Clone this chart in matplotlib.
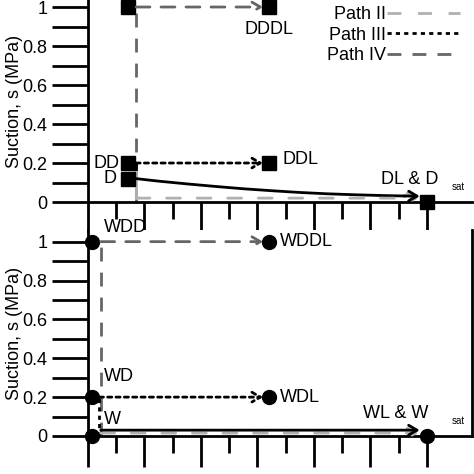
import matplotlib
matplotlib.use("Agg")
import matplotlib.pyplot as plt
from matplotlib.lines import Line2D

plt.rcParams["font.family"] = ["Liberation Sans", "DejaVu Sans"]

# x in tick units (0 = left spine), y in MPa
d_x = [1.4, 1.4, 1.4, 6.4, 6.4, 12.0]
d_y = [0.12, 0.2, 1.0, 1.0, 0.2, 0.0]
w_x = [0.15, 0.15, 0.15, 6.4, 6.4, 12.0]
w_y = [0.0, 0.2, 1.0, 1.0, 0.2, 0.0]

path1_top_x = [1.7, 2.5, 3.5, 4.5, 5.5, 6.5, 7.5, 8.5, 9.5, 10.5, 11.2, 11.75]
path1_top_y = [0.12, 0.107, 0.093, 0.08, 0.068, 0.058, 0.049, 0.042, 0.037, 0.033, 0.031, 0.03]

DARK = "#666666"
LIGHT = "#b0b0b0"
FS = 13

fig = plt.figure(figsize=(4.74, 4.74), dpi=100)
ax1 = fig.add_axes([0.1857, 0.5738, 0.81, 0.4262])
ax2 = fig.add_axes([0.1857, 0.0802, 0.81, 0.4346])


def style(ax, top):
    ax.set_xlim(0, 13.6)
    ax.set_ylim(0, 1.036 if top else 1.06)
    ax.spines["top"].set_visible(False)
    ax.spines["right"].set_visible(not top)
    for s in ax.spines.values():
        s.set_linewidth(2)
    ax.set_xticks(range(0, 13, 2))
    ax.set_xticks(range(1, 13, 2), minor=True)
    ax.set_xticklabels([])
    ax.set_yticks([0, 0.2, 0.4, 0.6, 0.8, 1.0])
    ax.set_yticklabels(["0", "0.2", "0.4", "0.6", "0.8", "1"], fontsize=FS)
    ax.set_yticks([0.1, 0.3, 0.5, 0.7, 0.9], minor=True)
    ax.tick_params(axis="x", which="major", length=22, width=2, direction="out")
    ax.tick_params(axis="x", which="minor", length=12, width=2, direction="out")
    ax.tick_params(axis="y", which="both", length=26, width=2, direction="out", pad=3)
    ax.set_ylabel("Suction, s (MPa)", fontsize=FS, labelpad=0)


def arrow(ax, x0, y0, x1, y1, color, ls="-"):
    ax.annotate("", xy=(x1, y1), xytext=(x0, y0),
                arrowprops=dict(arrowstyle="->,head_length=0.6,head_width=0.35",
                                color=color, lw=2, ls=ls, shrinkA=0, shrinkB=0))


style(ax1, True)
style(ax2, False)

# top panel paths
ax1.plot([1.7, 1.7], [0.0, 1.0], color=DARK, lw=2, ls=(0, (5, 4)))
arrow(ax1, 1.7, 1.0, 6.2, 1.0, DARK, ls=(0, (5, 4)))
ax1.plot([1.7, 1.7], [0.02, 0.17], color=LIGHT, lw=2)
arrow(ax1, 1.7, 0.02, 11.7, 0.02, LIGHT, ls=(0, (5, 6)))
arrow(ax1, 1.7, 0.2, 6.2, 0.2, "black", ls=(0, (1.5, 1.5)))
ax1.plot([1.7, 1.7], [0.17, 0.2], color="black", lw=2)
ax1.plot(path1_top_x[:-1], path1_top_y[:-1], color="black", lw=2)
arrow(ax1, path1_top_x[-2], path1_top_y[-2], path1_top_x[-1], path1_top_y[-1], "black")
ax1.plot(d_x, d_y, "s", color="black", ms=10, ls="none", clip_on=False)
ax1.text(1.1, 0.2, "DD", ha="right", va="center", fontsize=FS)
ax1.text(1.0, 0.12, "D", ha="right", va="center", fontsize=FS)
ax1.text(6.4, 0.93, "DDDL", ha="center", va="top", fontsize=FS)
ax1.text(6.9, 0.22, "DDL", ha="left", va="center", fontsize=FS)
ax1.text(11.4, 0.07, "DL & D", ha="center", va="bottom", fontsize=FS)
ax1.text(12.9, 0.05, "sat", ha="left", va="bottom", fontsize=7)

handles = [Line2D([], [], color=LIGHT, lw=2, ls=(0, (5, 6))),
           Line2D([], [], color="black", lw=2, ls=(0, (1.5, 1.5))),
           Line2D([], [], color=DARK, lw=2, ls=(0, (5, 4)))]
ax1.legend(handles, ["Path II", "Path III", "Path IV"], loc="upper right",
           bbox_to_anchor=(1.01, 1.05), frameon=False, markerfirst=False,
           handlelength=4.0, fontsize=FS, labelspacing=0.2, handletextpad=0.1)

# bottom panel paths
ax2.plot([0.45, 0.45], [0.0, 1.0], color=DARK, lw=2, ls=(0, (5, 4)))
arrow(ax2, 0.45, 1.0, 6.2, 1.0, DARK, ls=(0, (5, 4)))
ax2.plot([0.4, 0.4], [0.0, 0.2], color="black", lw=2, ls=(0, (1.5, 1.5)))
arrow(ax2, 0.4, 0.2, 6.2, 0.2, "black", ls=(0, (1.5, 1.5)))
arrow(ax2, 0.45, 0.015, 11.7, 0.015, LIGHT, ls=(0, (5, 6)))
arrow(ax2, 0.45, 0.03, 11.75, 0.03, "black")
ax2.plot(w_x, w_y, "o", color="black", ms=10, ls="none", clip_on=False)
ax2.text(0.55, 1.03, "WDD", ha="left", va="bottom", fontsize=FS)
ax2.text(6.8, 1.0, "WDDL", ha="left", va="center", fontsize=FS)
ax2.text(0.55, 0.26, "WD", ha="left", va="bottom", fontsize=FS)
ax2.text(6.8, 0.2, "WDL", ha="left", va="center", fontsize=FS)
ax2.text(0.55, 0.04, "W", ha="left", va="bottom", fontsize=FS)
ax2.text(10.9, 0.07, "WL & W", ha="center", va="bottom", fontsize=FS)
ax2.text(12.9, 0.05, "sat", ha="left", va="bottom", fontsize=7)

fig.savefig("out.png", dpi=100)
